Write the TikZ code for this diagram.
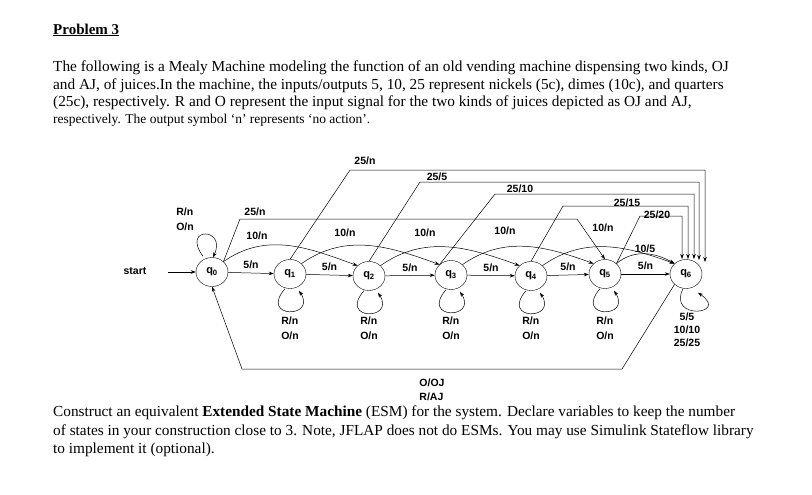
\documentclass[tikz,border=0pt]{standalone}
\usepackage{fontspec}
\setmainfont{Liberation Serif}
\setsansfont{Liberation Sans}
\usetikzlibrary{arrows.meta,shapes.geometric}
\begin{document}
\begin{tikzpicture}[x=1pt,y=-1pt,
  st/.style={draw,ellipse,minimum width=32pt,minimum height=29pt,inner sep=0pt,font=\sffamily\bfseries\fontsize{11}{12}\selectfont},
  ed/.style={-{Stealth[length=5pt,width=3.5pt]},line width=0.5pt},
  lb/.style={font=\sffamily\bfseries\fontsize{10.5}{12}\selectfont,inner sep=0pt},
  tx/.style={anchor=west,inner sep=0pt,font=\fontsize{15.3}{17}\selectfont}]
\useasboundingbox (0,0) rectangle (812,495);
\node[tx,font=\bfseries\fontsize{15}{17}\selectfont] (title) at (53,30) {\underline{Problem 3}};
\node[tx] (l1) at (53,68) {The following is a Mealy Machine modeling the function of an old vending machine dispensing two kinds, OJ};
\node[tx] (l2) at (53,86) {and AJ, of juices.In the machine, the inputs/outputs 5, 10, 25 represent nickels (5c), dimes (10c), and quarters};
\node[tx] (l3) at (53,103) {(25c), respectively. R and O represent the input signal for the two kinds of juices depicted as OJ and AJ,};
\node[tx,font=\fontsize{13.5}{15}\selectfont] (l4) at (53,120) {respectively. The output symbol `n' represents `no action'.};
\node[tx] (b1) at (53,413) {Construct an equivalent \textbf{Extended State Machine} (ESM) for the system. Declare variables to keep the number};
\node[tx] (b2) at (53,432) {of states in your construction close to 3. Note, JFLAP does not do ESMs. You may use Simulink Stateflow library};
\node[tx] (b3) at (53,450) {to implement it (optional).};

\node[st] (q0) at (212,272) {q\textsubscript{0}};
\node[st] (q1) at (290,274) {q\textsubscript{1}};
\node[st] (q2) at (369,276) {q\textsubscript{2}};
\node[st] (q3) at (451,275) {q\textsubscript{3}};
\node[st] (q4) at (531,276) {q\textsubscript{4}};
\node[st] (q5) at (605,274) {q\textsubscript{5}};
\node[st] (q6) at (686,274) {q\textsubscript{6}};
\node[lb] (start) at (135,271) {start};
\coordinate (s0) at (168,272);
\draw[ed] (s0) -- (q0);
\foreach \a/\b in {q0/q1,q1/q2,q2/q3,q3/q4,q4/q5,q5/q6}{\draw[ed] (\a) -- node[lb,above=4pt]{5/n} (\b);}
% 10 arcs
\draw[ed] (q0.north east) to[out=35,in=160] (q2.north west);
\draw[ed] (q1.north east) to[out=35,in=160] (q3.north west);
\draw[ed] (q2.north east) to[out=35,in=160] (q4.north west);
\draw[ed] (q3.north east) to[out=35,in=160] (q5.north west);
\draw[ed] (q4.north east) to[out=35,in=160] (q6.north west);
\draw[ed] (q5.north east) to[out=40,in=150] (q6.north west);
\node[lb] (t1) at (257,236) {10/n};
\node[lb] (t2) at (345,233) {10/n};
\node[lb] (t3) at (425,233) {10/n};
\node[lb] (t4) at (505,231) {10/n};
\node[lb] (t5) at (603,228) {10/n};
\node[lb] (t6) at (645,249) {10/5};
% 25 lines
\draw[ed] (q0.north east) -- (240,219) -- (577,219) -- (q5.north);
\draw[ed] (q1.north) -- (350,170) -- (705,170) -- (705,262);
\draw[ed] (q2.north) -- (420,182) -- (699,182) -- (699,260);
\draw[ed] (q3.north west) -- (495,194) -- (694,194) -- (694,259);
\draw[ed] (q4.north) -- (563,206) -- (688,206) -- (688,259);
\draw[ed] (q5.north east) -- (640,216) -- (682,216) -- (682,259);
\node[lb] (u0) at (255,212) {25/n};
\node[lb] (u1) at (365,161) {25/n};
\node[lb] (u2) at (437,177) {25/5};
\node[lb] (u3) at (520,189) {25/10};
\node[lb] (u4) at (627,203) {25/15};
\node[lb] (u5) at (657,215) {25/20};
% return
\draw[ed] (q6.south west) -- (622,369) -- (242,369) -- (q0.south);
\node[lb,align=left] (r) at (432,390) {O/OJ\\[2pt]R/AJ};
% self loops
\draw[ed] ([xshift=-9pt,yshift=1pt]q0.north) .. controls +(-22,-30) and +(14,-30) .. ([xshift=1pt]q0.north);
\node[lb,align=left] (s0l) at (185,219) {R/n\\[3pt]O/n};
\foreach \q/\x in {q1/290,q2/369,q3/451,q4/531,q5/605}{
  \draw[ed] ([xshift=-5pt]\q.south) .. controls +(-26,30) and +(18,28) .. ([xshift=9pt,yshift=-2pt]\q.south);
  \node[lb,align=left] at (\x,328) {R/n\\[3pt]O/n};}
\draw[ed] ([xshift=-3pt]q6.south) .. controls +(-16,32) and +(32,22) .. ([xshift=12pt,yshift=-4pt]q6.south);
\node[lb,align=center] (s6) at (687,330) {5/5\\[1pt]10/10\\[1pt]25/25};
\end{tikzpicture}
\end{document}
